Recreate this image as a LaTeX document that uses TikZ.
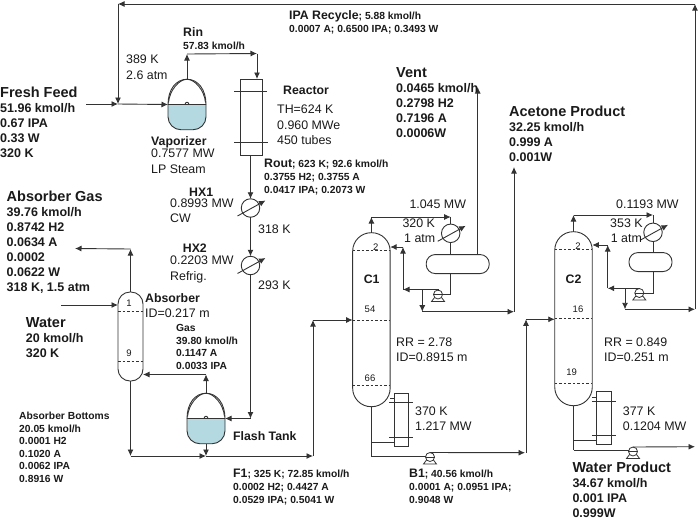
\documentclass[tikz,border=0pt]{standalone}
\usepackage{fontspec}
\setmainfont{Liberation Sans}
\usepackage{tikz}
\usetikzlibrary{positioning,calc,arrows.meta}

\definecolor{liquid}{HTML}{B4D9E1}
\definecolor{pipeline}{HTML}{333333}
\definecolor{inktext}{HTML}{1A1A1A}

\newcommand{\headfont}{\fontsize{14.5}{15}\selectfont\bfseries}
\newcommand{\midfont}{\fontsize{12.3}{15}\selectfont\bfseries}

\newcommand{\tankdetail}[1]{
    \draw[pipe,fill=liquid] (#1.west) [rounded corners=13pt] -- (#1.south west) -- (#1.south east) [sharp corners] -- (#1.east) -- cycle;
    \draw[pipe] (#1.east) .. controls +(0,-15) and +(11,0) .. (#1.north) .. controls +(-11,0) and +(0,-15) .. (#1.west);
    \draw[pipe] ([shift={(-18.5,-2)}]#1.center) .. controls +(1,-12) and +(-8,0) .. (#1.north);
    \draw[pipe] ([shift={(18.5,-2)}]#1.center) .. controls +(-1,-12) and +(8,0) .. (#1.north);
    \draw[pipe] ([shift={(-2,0)}]#1.center) .. controls +(0.5,-3) and +(-0.5,-3) .. ([shift={(2,0)}]#1.center);
}
\newcommand{\crossbar}[4]{\draw[pipe] ([shift={(#3,#2)}]#1.center) -- ([shift={(#4,#2)}]#1.center);}
\newcommand{\tray}[2]{\draw[tray] (#1.west |- 0,#2) -- (#1.east |- 0,#2);}
\newcommand{\hxarrow}[1]{\draw[flow] ([shift={(-13,8)}]#1.center) -- ([shift={(15,-7.5)}]#1.center);}
\newcommand{\pumpfoot}[1]{
    \draw[thinpipe] (#1.west) -- (#1.east);
    \draw[thinpipe] ([shift={(-3.5,3)}]#1.center) -- ([shift={(-6.5,7)}]#1.center) -- ([shift={(6.5,7)}]#1.center) -- ([shift={(3.5,3)}]#1.center);
}

\tikzset{
    pipe/.style={draw=pipeline,line width=0.9pt},
    thinpipe/.style={draw=pipeline,line width=0.8pt},
    flow/.style={pipe,-{Latex[length=6.5pt,width=6pt]}},
    tray/.style={draw=pipeline,line width=0.8pt,dash pattern=on 2.5pt off 2pt},
    vessel/.style={rectangle,pipe,inner sep=0pt,outer sep=0pt},
    tank/.style={rectangle,inner sep=0pt,outer sep=0pt,minimum width=38pt,minimum height=50.5pt},
    drum/.style={vessel,minimum height=19pt,rounded corners=9pt},
    column/.style={vessel,rounded corners=18.5pt,minimum width=37.5pt,minimum height=174pt},
    tube/.style={vessel,minimum width=14.5pt,minimum height=53pt},
    hx/.style={circle,pipe,inner sep=0pt,outer sep=0pt,minimum size=18.5pt},
    pump/.style={circle,thinpipe,inner sep=0pt,outer sep=0pt,minimum size=9pt},
    datatext/.style={inner sep=0pt,anchor=north west,yshift=10.6pt,align=left,text=inktext,font=\fontsize{12.5}{15}\selectfont\bfseries},
    smalltext/.style={inner sep=0pt,anchor=north west,yshift=7.5pt,align=left,text=inktext,font=\fontsize{10.3}{12.6}\selectfont\bfseries},
    plaintext/.style={inner sep=0pt,anchor=north west,yshift=9pt,align=left,text=inktext,font=\fontsize{12.4}{15.2}\selectfont},
    headtext/.style={inner sep=0pt,anchor=north west,yshift=9pt,align=left,text=inktext,font=\midfont},
    traytext/.style={inner sep=0pt,text=inktext,font=\fontsize{9.5}{11}\selectfont},
    columntext/.style={inner sep=0pt,text=inktext,font=\midfont},
}

\begin{document}
\begin{tikzpicture}[x=1pt,y=-1pt]
    \useasboundingbox (0,0) rectangle (700,520);

    % equipment
    \node[tank] (vap) at (187,104.5) {};
    \node[tank] (flash) at (206,418.5) {};
    \node[vessel,minimum width=22pt,minimum height=76pt] (reac) at (251.7,117) {};
    \node[hx] (hx1) at (250.5,208) {};
    \node[hx] (hx2) [below=39pt of hx1] {};
    \node[vessel,rounded corners=12pt,minimum width=25pt,minimum height=89pt] (abs) at (130.5,336.5) {};
    \node[column] (c1) at (371.4,319.7) {};
    \node[column] (c2) at (573.5,318.7) {};
    \node[tube] (reb1) at (401.5,419.5) {};
    \node[tube] (reb2) at (603.8,418.2) {};
    \node[hx] (cond1) at (450.7,233.3) {};
    \node[hx] (cond2) at (653,232.3) {};
    \node[drum,minimum width=63pt] (drum1) [below=12pt of cond1,xshift=7pt] {};
    \node[drum,minimum width=43pt] (drum2) [below=11pt of cond2,xshift=-2.5pt] {};
    \node[pump] (pump1) at (438,294.5) {};
    \node[pump] (pump2) at (639.3,293) {};
    \node[pump] (pump3) at (430,457) {};
    \node[pump] (pump4) at (633,451.5) {};

    \tankdetail{vap}
    \tankdetail{flash}
    \crossbar{reac}{-25.5}{-17.5}{15}
    \crossbar{reac}{25.5}{-17.5}{16}
    \crossbar{reb1}{-17}{-12.5}{11.5}
    \crossbar{reb1}{17.5}{-12.5}{11.5}
    \crossbar{reb2}{-17}{-12}{12}
    \crossbar{reb2}{17.5}{-12}{12}
    \hxarrow{hx1}
    \hxarrow{hx2}
    \hxarrow{cond1}
    \hxarrow{cond2}
    \pumpfoot{pump1}
    \pumpfoot{pump2}
    \pumpfoot{pump3}
    \pumpfoot{pump4}
    \tray{abs}{311.7}
    \tray{abs}{361.7}
    \tray{c1}{250.7}
    \tray{c1}{320}
    \tray{c1}{385}
    \tray{c2}{249}
    \tray{c2}{318.3}
    \tray{c2}{383.3}

    % feed, vaporizer, reactor
    \coordinate (feedin) at (86,104);
    \coordinate (feedmix) at (118,104);
    \coordinate (rectop) at (118,4);
    \coordinate (rinup) at (187,54);
    \coordinate (rinend) at (257,53.5);
    \draw[flow] (feedin) -- (feedmix);
    \draw[flow] (feedmix) -- (vap.center -| vap.west);
    \draw[flow] (vap.north) -- (rinup);
    \draw[flow] (rinup) -- (rinend);
    \draw[flow] (rinend) -- (rinend |- reac.north);
    \draw[flow] (hx1 |- reac.south) -- (hx1.north);
    \draw[flow] (hx1.south) -- (hx2.north);

    % flash tank and absorber
    \coordinate (flashin) at (hx2 |- flash);
    \coordinate (gasup) at (206,374.5);
    \coordinate (absgas) at (abs.east |- gasup);
    \coordinate (fjoin) at (206,456);
    \coordinate (absb) at (abs.south |- fjoin);
    \coordinate (f1low) at (313,456);
    \coordinate (f1top) at (313,320);
    \coordinate (absup) at (130.5,249);
    \coordinate (absgasend) at (75,248.5);
    \coordinate (waterin) at (61,305);
    \draw[flow] (hx2.south) -- (flashin);
    \draw[flow] (flashin) -- (flash.east);
    \draw[flow] (flash.north) -- (gasup);
    \draw[flow] (gasup) -- (absgas);
    \draw[flow] (flash.south) -- (fjoin);
    \draw[flow] (abs.south) -- (absb);
    \draw[flow] (absb) -- (fjoin);
    \draw[flow] (fjoin) -- (f1low);
    \draw[flow] (f1low) -- (f1top);
    \draw[flow] (f1top) -- (f1top -| c1.west);
    \draw[flow] (abs.north) -- (absup);
    \draw[flow] (absup) -- (absgasend);
    \draw[flow] (waterin) -- (waterin -| abs.west);

    % column C1
    \coordinate (c1up) at (371.4,217);
    \coordinate (c1over) at (cond1 |- c1up);
    \coordinate (vent) at (477.7,87);
    \coordinate (ref1) at (403,289.5);
    \coordinate (ref1top) at (403,247);
    \coordinate (dist1) at (422.3,289.5);
    \coordinate (dist1low) at (422.3,311.7);
    \coordinate (acetone) at (514,311.7);
    \coordinate (acetonetop) at (514,167);
    \draw[flow] (c1.north) -- (c1up);
    \draw[flow] (c1up) -- (c1over);
    \draw[pipe] (c1over) -- (cond1.north);
    \draw[pipe] (cond1.south) -- (cond1 |- drum1.north);
    \draw[flow] (vent |- drum1.north) -- (vent);
    \draw[pipe] (cond1 |- drum1.south) |- (pump1.east);
    \draw[flow] (pump1.north) -- (pump1 |- ref1) -- (ref1);
    \draw[flow] (ref1) -- (ref1top);
    \draw[flow] (ref1top) -- (ref1top -| c1.east);
    \draw[flow] (dist1) -- (dist1low);
    \draw[flow] (dist1low) -- (acetone);
    \draw[flow] (acetone) -- (acetonetop);
    \coordinate (b1end) at (525,452.7);
    \coordinate (f2low) at (526,452.7);
    \coordinate (f2top) at (526,319.3);
    \coordinate (reb1in) at (c1.south |- 0,442);
    \draw[pipe] (c1.south) -- (c1.south |- 0,456);
    \draw[pipe] (reb1in) -- (reb1in -| reb1.west);
    \draw[pipe] (c1.east |- 0,398) -- (reb1.west |- 0,398);
    \draw[pipe] (c1.south |- 0,456) -- (pump3.west |- 0,456);
    \draw[flow] (pump3.north) -- (b1end);
    \draw[flow] (f2low) -- (f2top);
    \draw[flow] (f2top) -- (f2top -| c2.west);

    % column C2
    \coordinate (c2up) at (573.5,215);
    \coordinate (c2over) at (cond2 |- c2up);
    \coordinate (ref2) at (607.7,288.3);
    \coordinate (ref2top) at (607.7,245);
    \coordinate (dist2) at (625,288.3);
    \coordinate (dist2low) at (625,309.3);
    \coordinate (recright) at (695,309.3);
    \coordinate (rectopr) at (695,4);
    \coordinate (reb2in) at (c2.south |- 0,440);
    \coordinate (waterout) at (695,446.7);
    \draw[flow] (c2.north) -- (c2up);
    \draw[flow] (c2up) -- (c2over);
    \draw[pipe] (c2over) -- (cond2.north);
    \draw[pipe] (cond2.south) -- (cond2 |- drum2.north);
    \draw[pipe] (cond2 |- drum2.south) |- (pump2.east);
    \draw[flow] (pump2.north) -- (pump2 |- ref2) -- (ref2);
    \draw[flow] (ref2) -- (ref2top);
    \draw[flow] (ref2top) -- (ref2top -| c2.east);
    \draw[flow] (dist2) -- (dist2low);
    \draw[flow] (dist2low) -- (recright);
    \draw[flow] (recright) -- (rectopr);
    \draw[flow] (rectopr) -- (rectop);
    \draw[flow] (rectop) -- (feedmix);
    \draw[pipe] (c2.south) -- (c2.south |- 0,450);
    \draw[pipe] (reb2in) -- (reb2in -| reb2.west);
    \draw[pipe] (c2.east |- 0,397) -- (reb2.west |- 0,397);
    \draw[pipe] (c2.south |- 0,450) -- (pump4.west |- 0,450);
    \draw[flow] (pump4.north) -- (waterout);

    % tray numbers and column names
    \node[traytext] (abs1) at (129,303) {1};
    \node[traytext] (abs9) at (129,353.5) {9};
    \node[traytext] (c1t2) at (375.7,247) {2};
    \node[traytext] (c1t54) at (370,309.5) {54};
    \node[traytext] (c1t66) at (370,378) {66};
    \node[traytext] (c2t2) at (578,246) {2};
    \node[traytext] (c2t16) at (578,309.7) {16};
    \node[traytext] (c2t19) at (571.7,372.7) {19};
    \node[columntext] (c1name) at (371.7,279.5) {C1};
    \node[columntext] (c2name) at (573.5,279.5) {C2};

    % stream labels
    \node[datatext] (feedlabel) at (0,97.3) {{\headfont Fresh Feed}\\51.96 kmol/h\\0.67 IPA\\0.33 W\\320 K};
    \node[smalltext,yshift=1.5pt] (reclabel) at (289,19.3) {{\midfont IPA Recycle}; 5.88 kmol/h\\0.0007 A; 0.6500 IPA; 0.3493 W};
    \node[smalltext,yshift=1.5pt] (rinlabel) at (183,36.7) {{\midfont Rin}\\57.83 kmol/h};
    \node[plaintext] (vapstate) at (126,64) {389 K\\2.6 atm};
    \node[headtext] (reactitle) at (283,95) {Reactor};
    \node[plaintext] (reacinfo) at (277,114) {TH=624 K\\0.960 MWe\\450 tubes};
    \node[headtext] (vaptitle) at (151,145.7) {Vaporizer};
    \node[plaintext] (vapinfo) at (151,158) {0.7577 MW\\LP Steam};
    \node[smalltext,yshift=1.5pt] (routlabel) at (264,168.3) {{\midfont Rout}; 623 K; 92.6 kmol/h\\0.3755 H2; 0.3755 A\\0.0417 IPA; 0.2073 W};
    \node[headtext] (hx1title) at (189,196.7) {HX1};
    \node[plaintext] (hx1info) at (170,207.5) {0.8993 MW\\CW};
    \node[plaintext] (hx1temp) at (258,233.3) {318 K};
    \node[headtext] (hx2title) at (182.7,252.3) {HX2};
    \node[plaintext] (hx2info) at (170,265) {0.2203 MW\\Refrig.};
    \node[plaintext] (hx2temp) at (258,290) {293 K};
    \node[datatext] (gaslabel) at (6.5,201.7) {{\headfont Absorber Gas}\\39.76 kmol/h\\0.8742 H2\\0.0634 A\\0.0002\\0.0622 W\\318 K, 1.5 atm};
    \node[headtext] (abstitle) at (145,302.7) {Absorber};
    \node[plaintext] (absinfo) at (145,317.7) {ID=0.217 m};
    \node[smalltext] (gasfeed) at (176,331.7) {Gas\\39.80 kmol/h\\0.1147 A\\0.0033 IPA};
    \node[datatext] (waterlabel) at (25.7,327.7) {{\headfont Water}\\20 kmol/h\\320 K};
    \node[smalltext] (bottoms) at (19,419.3) {Absorber Bottoms\\20.05 kmol/h\\0.0001 H2\\0.1020 A\\0.0062 IPA\\0.8916 W};
    \node[headtext] (flashtitle) at (233,440.7) {Flash Tank};
    \node[smalltext,yshift=1.5pt] (f1label) at (233,478.3) {{\midfont F1}; 325 K; 72.85 kmol/h\\0.0002 H2; 0.4427 A\\0.0529 IPA; 0.5041 W};
    \node[datatext] (ventlabel) at (396,78.3) {{\headfont Vent}\\0.0465 kmol/h\\0.2798 H2\\0.7196 A\\0.0006W};
    \node[datatext] (acelabel) at (509,116) {{\headfont Acetone Product}\\32.25 kmol/h\\0.999 A\\0.001W};
    \node[plaintext] (cond1duty) at (409.3,208.3) {1.045 MW};
    \node[plaintext] (cond1temp) at (402.3,227.3) {320 K};
    \node[plaintext] (cond1pres) at (404,242.3) {1 atm};
    \node[plaintext] (cond2duty) at (616,208.3) {0.1193 MW};
    \node[plaintext] (cond2temp) at (610,227.3) {353 K};
    \node[plaintext] (cond2pres) at (610.7,242.3) {1 atm};
    \node[plaintext] (c1info) at (396,346.7) {RR = 2.78\\ID=0.8915 m};
    \node[plaintext] (c2info) at (604,346.7) {RR = 0.849\\ID=0.251 m};
    \node[plaintext] (reb1info) at (415,415.7) {370 K\\1.217 MW};
    \node[plaintext] (reb2info) at (622.7,415.7) {377 K\\0.1204 MW};
    \node[smalltext,yshift=1.5pt] (b1label) at (409,478.3) {{\midfont B1};  40.56 kmol/h\\0.0001 A; 0.0951 IPA;\\0.9048 W};
    \node[datatext] (waterprod) at (572.3,472.7) {{\headfont Water Product}\\34.67 kmol/h\\0.001 IPA\\0.999W};
\end{tikzpicture}
\end{document}
